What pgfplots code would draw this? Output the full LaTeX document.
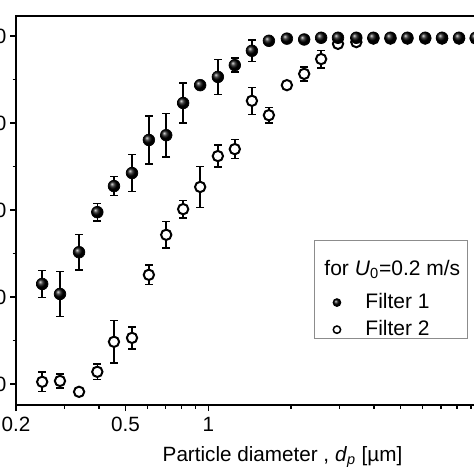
\documentclass[border=0pt]{standalone}
\usepackage{pgfplots}
\pgfplotsset{compat=1.18}
\usepackage{fontspec}
\setmainfont{Liberation Sans}
\pgfplotsset{myleg/.style={legend image code/.code={\path (0pt,0pt) (30pt,0pt); \draw[##1] plot coordinates {(13.2pt,0pt)};}}}
\pgfplotstableread{
d v e
0.249 43.0 3.1
0.289 40.7 5.2
0.339 50.3 4.1
0.395 59.5 2.0
0.454 65.5 2.2
0.528 68.5 4.3
0.608 76.1 5.5
0.703 77.2 5.0
0.810 84.6 4.6
0.934 88.7 0.5
1.083 90.6 4.0
1.248 93.3 1.6
1.440 96.6 2.5
1.660 98.9 0.5
1.930 99.4 0.3
2.230 99.2 0.3
2.570 99.6 0.3
2.960 99.6 0.3
3.450 99.6 0.3
3.980 99.6 0.3
4.590 99.6 0.3
5.290 99.6 0.3
6.140 99.6 0.3
7.070 99.6 0.3
8.150 99.6 0.3
9.370 99.6 0.3
}\filterone
\pgfplotstableread{
d v e
0.249 20.5 2.2
0.289 20.7 1.6
0.339 18.2 0.8
0.395 22.8 1.8
0.454 29.7 4.9
0.528 30.6 2.5
0.608 45.1 2.2
0.703 54.3 3.0
0.810 60.2 2.0
0.934 65.3 4.7
1.083 72.4 2.5
1.248 74.0 2.2
1.440 85.1 3.1
1.660 81.8 1.8
1.930 88.7 0.8
2.230 91.3 1.6
2.570 94.7 2.0
2.960 98.2 0.5
3.450 98.6 0.5
3.980 99.4 0.3
4.590 99.4 0.3
5.290 99.4 0.3
6.140 99.4 0.3
7.070 99.4 0.3
8.150 99.4 0.3
9.370 99.4 0.3
}\filtertwo
\begin{document}
\begin{tikzpicture}
\path[use as bounding box, clip] (-9.6pt,-41.4pt) rectangle (274.8pt,243pt);
\begin{axis}[
  at={(0,0)}, anchor=south west,
  scale only axis, width=319.8pt, height=233.4pt,
  xmode=log, xmin=0.2, xmax=17.3, ymin=15.17, ymax=104.6,
  axis line style={line width=0.9pt},
  xtick={0.2,0.5,1}, xticklabels={0.2,0.5,1},
  minor xtick={0.3,0.4,0.6,0.7,0.8,0.9,2,3,4,5,6,7,8,9},
  ytick={20,40,60,80,100},
  minor ytick={30,50,70,90},
  xtick pos=bottom, ytick pos=left,
  tick align=outside,
  major tick length=3.6pt, minor tick length=2.1pt,
  every tick/.style={line width=0.8pt, black},
  /pgf/number format/assume math mode=true,
  tick label style={font=\fontsize{12.4}{15}\selectfont},
  yticklabel style={xshift=1.3pt},
  label style={font=\fontsize{12.4}{15}\selectfont},
  xlabel={Particle diameter , \textit{d}\textsubscript{\textit{p}} [µm]},
  xlabel style={yshift=-2pt},
  legend style={at={(axis description cs:0.559,0.424)}, anchor=north west,
    draw=black!45, line width=0.6pt, font=\fontsize{12.6}{15}\selectfont,
    row sep=0pt, column sep=0pt, inner sep=0pt,
    nodes={inner sep=0pt, text depth=, text height=}},
  legend cell align=left,
]
\addlegendimage{empty legend}
\addlegendentry{\hspace*{-24.6pt}\rule[-5.4pt]{0pt}{26.4pt}for \textit{U}\textsubscript{0}=0.2 m/s\hspace*{4.2pt}}
\addlegendimage{myleg, only marks, mark=ball, mark size=2.3pt, ball color=black}
\addlegendentry{\rule[-7.2pt]{0pt}{21.6pt}Filter 1}
\addlegendimage{myleg, only marks, mark=*, mark size=2.2pt, mark options={fill=white, draw=black, line width=0.9pt}}
\addlegendentry{\rule[-1.8pt]{0pt}{10.8pt}Filter 2}

\addplot[forget plot, only marks, mark=*, mark size=3.1pt,
  mark options={fill=white, draw=black, line width=1.2pt},
  error bars/.cd, y dir=both, y explicit,
  error bar style={line width=0.9pt, black},
  error mark options={rotate=90, mark size=2.3pt, line width=0.9pt, black}]
  table[x=d, y=v, y error=e] {\filtertwo};
\addplot[forget plot, only marks, mark=ball, mark size=3.5pt, mark options={ball color=black},
  error bars/.cd, y dir=both, y explicit,
  error bar style={line width=0.9pt, black},
  error mark options={rotate=90, mark size=2.3pt, line width=0.9pt, black}]
  table[x=d, y=v, y error=e] {\filterone};
\end{axis}
\end{tikzpicture}
\end{document}
